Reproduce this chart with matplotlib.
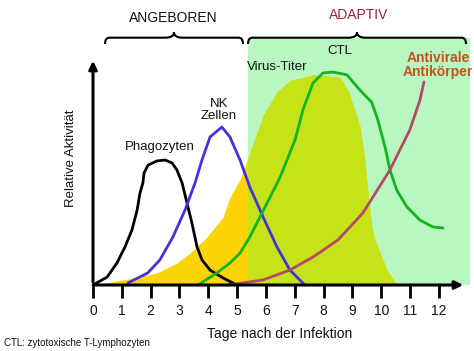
import matplotlib
matplotlib.use("Agg")
import matplotlib.pyplot as plt
import numpy as np
from matplotlib.patches import Rectangle
from matplotlib.path import Path
from matplotlib.patches import PathPatch

plt.rcParams['font.family'] = ['Liberation Sans', 'DejaVu Sans']

days = list(range(0, 13))

phago_x = [0, 0.49, 0.83, 1.11, 1.35, 1.53, 1.63, 1.73, 1.77, 1.91, 2.22, 2.50, 2.74, 2.91, 3.09,
           3.26, 3.43, 3.61, 3.78, 4.06, 4.51, 4.99]
phago_y = [0, 3.6, 10, 17.3, 25, 34, 41.8, 46.4, 50.9, 54.5, 56.4, 56.8, 55.5, 52.3, 46.4,
           37.3, 28.2, 17.3, 11.4, 6.8, 3.2, 0]

nk_x = [1.21, 1.90, 2.32, 2.77, 3.19, 3.54, 3.78, 4.06, 4.47, 4.75, 5.10, 5.44, 5.90, 6.38, 6.83, 7.35]
nk_y = [0.9, 5.5, 11.4, 21.8, 34, 46.4, 56.8, 67.3, 71.8, 67.3, 56.8, 44.5, 30.9, 17.3, 6.8, 0]

virus_x = [0, 1.04, 2.22, 2.91, 3.36, 3.95, 4.51, 4.75, 5.10, 5.44, 5.90, 6.38, 6.83, 7.63, 8.57,
           8.84, 9.08, 9.26, 9.43, 9.54, 9.67, 9.78, 10.20, 10.54]
virus_y = [0, 2.3, 5.5, 10, 14.5, 21.8, 30.9, 40, 48, 60, 77, 87.7, 93, 95.5, 94.5,
           88.6, 79.5, 72, 56.8, 41.8, 26.4, 20.5, 6.8, 0]

ctl_x = [3.64, 4.30, 4.75, 5.10, 5.44, 6.04, 6.49, 7.01, 7.28, 7.63, 7.98, 8.32, 8.81, 9.26,
         9.67, 9.88, 10.13, 10.30, 10.54, 10.89, 11.34, 11.79, 12.14]
ctl_y = [0, 5.5, 10, 14.5, 21.8, 37.3, 49, 66, 79.5, 91.8, 96.4, 96.8, 95.5, 88.6,
         83, 75, 62.7, 52.3, 43, 35.5, 29.5, 26.4, 25.9]

ab_x = [4.68, 5.90, 6.83, 7.63, 8.50, 9.36, 10.30, 10.99, 11.34, 11.48]
ab_y = [0, 2.3, 6.8, 12.7, 20.5, 32.7, 52.3, 70.5, 84, 92.3]

# pixel -> data mapping helpers (figure 474x351)
X0, XS = 93.0, 28.83
Y0, YS = 285.0, 2.2
def dx(px): return (px - X0) / XS
def dy(py): return (Y0 - py) / YS

fig = plt.figure(figsize=(4.74, 3.51), dpi=100)
ax = fig.add_axes([0, 0, 1, 1])
ax.set_xlim(dx(0), dx(474))
ax.set_ylim(dy(351), dy(0))
ax.axis('off')

# adaptive background
ax.add_patch(Rectangle((dx(248), 0), dx(470) - dx(248), dy(38) - 0,
                       facecolor='#b8f7c0', edgecolor='none', zorder=0))

# virus titer fill
split = dx(248)
vx = np.array(virus_x); vy = np.array(virus_y)
ax.fill_between(vx, 0, vy, color='#fdd507', lw=0, zorder=1)
clip_r = Rectangle((split, -5), 20, 200, transform=ax.transData, visible=False)
ax.add_patch(clip_r)
fg = ax.fill_between(vx, 0, vy, color='#c6e318', lw=0, zorder=1.5)
fg.set_clip_path(clip_r)

# curves
kw = dict(lw=2.0, zorder=3, solid_capstyle='round', solid_joinstyle='round')
ax.plot(phago_x, phago_y, color='black', **kw)
ax.plot(nk_x, nk_y, color='#4433dd', **kw)
ax.plot(ctl_x, ctl_y, color='#12b51e', **kw)
ax.plot(ab_x, ab_y, color='#b34a6a', **kw)

# axes arrows
ax.annotate('', xy=(dx(466), 0), xytext=(0, 0),
            arrowprops=dict(arrowstyle='-|>', color='black', lw=2.2, mutation_scale=12), zorder=4)
ax.annotate('', xy=(0, dy(58)), xytext=(0, 0),
            arrowprops=dict(arrowstyle='-|>', color='black', lw=2.2, mutation_scale=12), zorder=4)
tick_end = dy(298)
for d in days:
    ax.plot([d, d], [0, tick_end], color='black', lw=2, zorder=4, solid_capstyle='butt')
    ax.text(d, dy(311), str(d), ha='center', va='center', fontsize=10, color='#111111')

# braces
def brace(x1, x2, ybase, h, color='black'):
    xm = (x1 + x2) / 2
    verts = [(x1, ybase), (x1, ybase + h * 0.7), (x1 + 0.15, ybase + h * 0.7),
             (xm - 0.3, ybase + h * 0.7), (xm, ybase + h * 0.7), (xm, ybase + h * 1.3),
             (xm, ybase + h * 0.7), (xm + 0.3, ybase + h * 0.7),
             (x2 - 0.15, ybase + h * 0.7), (x2, ybase + h * 0.7), (x2, ybase)]
    codes = [Path.MOVETO, Path.CURVE3, Path.CURVE3, Path.LINETO, Path.CURVE3, Path.CURVE3,
             Path.CURVE3, Path.CURVE3, Path.LINETO, Path.CURVE3, Path.CURVE3]
    ax.add_patch(PathPatch(Path(verts, codes), facecolor='none', edgecolor=color, lw=1.5, zorder=4))

brace(dx(105), dx(243), dy(44), dy(35) - dy(44))
brace(dx(248), dx(466), dy(44), dy(35) - dy(44))

ax.text(dx(173), dy(18), 'ANGEBOREN', ha='center', va='center', fontsize=10, color='#111111')
ax.text(dx(359), dy(15), 'ADAPTIV', ha='center', va='center', fontsize=10, color='#a0233b')
ax.text(dx(340), dy(51), 'CTL', ha='center', va='center', fontsize=9.5, color='#111111')
ax.text(dx(277), dy(67), 'Virus-Titer', ha='center', va='center', fontsize=9.5, color='#111111')
ax.text(dx(438), dy(65), 'Antivirale\nAntikörper', ha='center', va='center', fontsize=10,
        fontweight='bold', color='#c8501e', linespacing=1.05)
ax.text(dx(219), dy(110), 'NK\nZellen', ha='center', va='center', fontsize=9.5, color='#111111',
        linespacing=1.1)
ax.text(dx(160), dy(147), 'Phagozyten', ha='center', va='center', fontsize=9.5, color='#111111')
ax.text(dx(71), dy(158), 'Relative Aktivität', ha='center', va='center', fontsize=9.5,
        rotation=90, color='#111111')
ax.text(dx(280), dy(334), 'Tage nach der Infektion', ha='center', va='center', fontsize=10,
        color='#111111')
ax.text(dx(4), dy(343), 'CTL: zytotoxische T-Lymphozyten', ha='left', va='center', fontsize=7,
        color='#111111')

fig.savefig('out.png', dpi=100)
